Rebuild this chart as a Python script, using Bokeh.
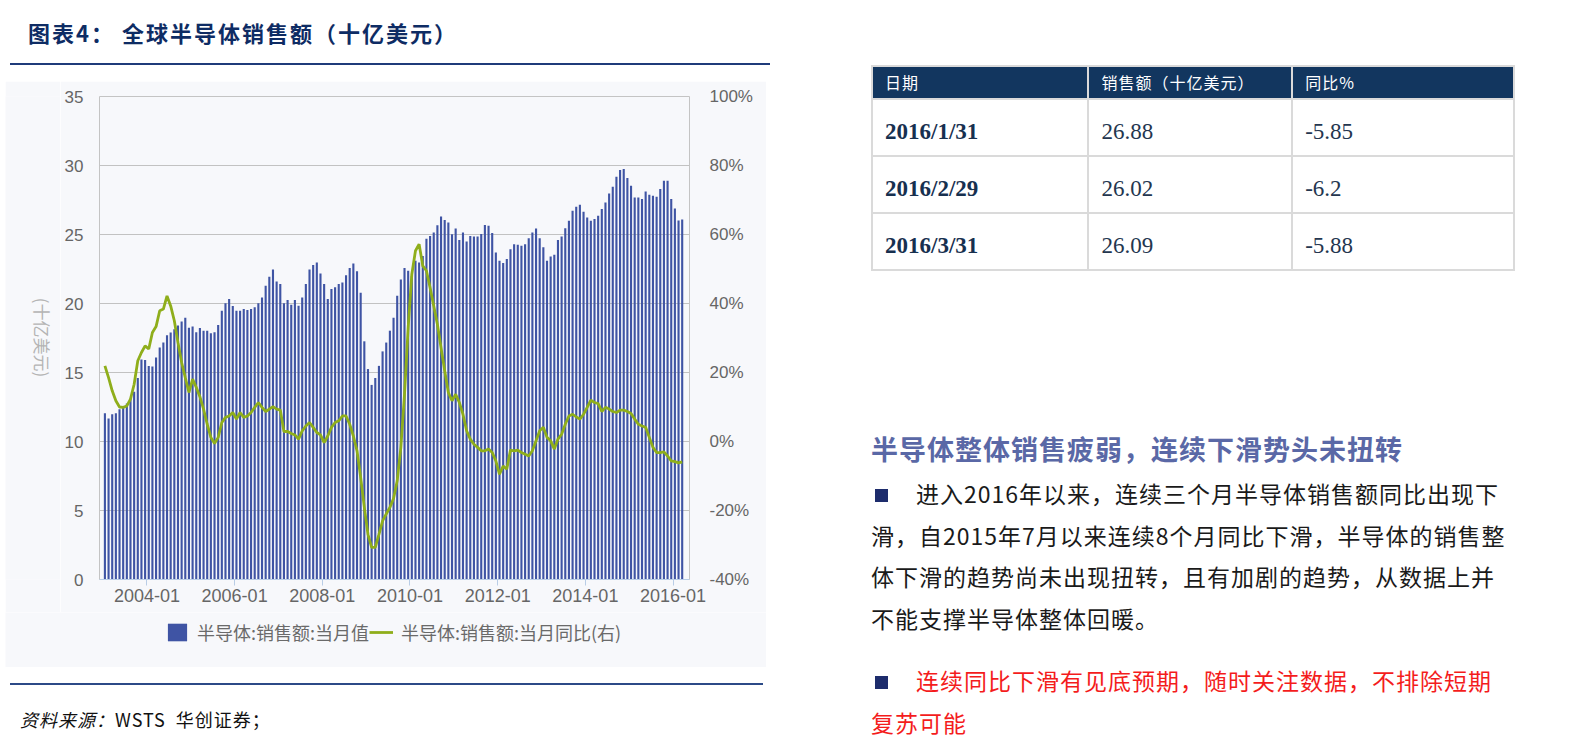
import math
import pandas as pd
from bokeh.plotting import figure
from bokeh.models import (ColumnDataSource, Range1d, LinearAxis, FixedTicker,
                          PrintfTickFormatter, Legend, LegendItem, Label, Div)
from bokeh.layouts import row, column
from bokeh.embed import file_html
from bokeh.resources import INLINE

# Global semiconductor monthly sales (billion USD), 2003-01 .. 2016-03
sales = [
    12.05, 11.67, 11.98, 12.05, 12.34, 12.46, 12.75, 13.10, 13.60, 14.60, 15.94, 15.90,  # 2003
    15.48, 15.43, 16.09, 16.81, 17.17, 17.70, 17.90, 18.14, 18.40, 18.70, 18.97, 18.24,  # 2004
    18.34, 17.91, 18.22, 18.03, 18.03, 17.84, 17.91, 18.44, 19.48, 20.01, 20.32, 19.82,  # 2005
    19.48, 19.48, 19.60, 19.53, 19.60, 19.72, 20.01, 20.44, 21.29, 21.94, 22.47, 21.60,  # 2006
    21.41, 20.01, 20.25, 19.91, 20.25, 19.84, 20.44, 21.41, 22.47, 22.79, 22.97, 22.18,  # 2007
    21.41, 20.32, 21.05, 21.17, 21.41, 21.53, 22.04, 22.57, 22.90, 22.33, 20.78, 17.26,  # 2008
    15.25, 14.10, 14.60, 15.48, 16.53, 17.17, 18.03, 18.97, 20.57, 21.74, 22.57, 22.38,  # 2009
    22.00, 23.09, 22.97, 23.45, 24.70, 24.90, 25.15, 25.67, 26.30, 26.05, 25.87, 25.02,  # 2010
    25.43, 24.60, 25.15, 24.50, 24.90, 24.85, 24.85, 25.03, 25.68, 25.63, 25.10, 23.70,  # 2011
    23.10, 22.93, 23.22, 23.94, 24.30, 24.26, 24.18, 24.30, 24.72, 25.15, 25.44, 24.72,  # 2012
    24.07, 23.10, 23.41, 23.53, 24.60, 24.86, 25.46, 26.00, 26.72, 27.01, 27.15, 26.65,  # 2013
    26.24, 26.00, 26.12, 26.36, 26.84, 27.32, 27.97, 28.46, 29.18, 29.67, 29.74, 29.09,  # 2014
    28.53, 27.68, 27.68, 27.57, 28.12, 27.88, 27.80, 27.73, 28.29, 28.89, 28.89, 27.57,  # 2015
    26.88, 26.02, 26.09,                                                                # 2016
]

# Year-on-year change of monthly sales (%)
yoy = [
    21.9, 18.5, 14.7, 11.8, 10.0, 9.9, 10.3, 12.3, 16.6, 23.4, 25.8, 27.7,        # 2003
    26.8, 31.6, 33.3, 37.9, 38.4, 42.2, 39.3, 35.0, 28.7, 22.9, 18.5, 14.2,       # 2004
    18.1, 15.7, 13.0, 9.4, 5.0, 1.2, -0.6, 1.2, 5.5, 7.0, 7.4, 8.4,               # 2005
    6.5, 8.4, 7.0, 7.4, 8.4, 9.9, 11.3, 9.9, 8.7, 9.4, 10.1, 9.4,                 # 2006
    9.1, 2.9, 2.9, 2.3, 1.9, 0.7, 3.1, 4.5, 5.5, 4.1, 2.6, 1.9,                   # 2007
    -0.3, 1.6, 4.1, 5.5, 6.0, 7.4, 7.4, 5.0, 1.6, -2.7, -10.4, -19.1,             # 2008
    -26.9, -30.7, -30.7, -26.9, -23.0, -21.0, -19.1, -16.5, -11.4, -1.7, 13.7, 33.0,  # 2009
    48.5, 55.3, 57.2, 50.9, 49.5, 44.6, 39.3, 34.0, 27.2, 20.5, 14.2, 11.8,       # 2010
    13.7, 11.3, 7.9, 3.1, 0.7, -0.8, -1.7, -2.7, -2.7, -2.2, -3.2, -5.6,          # 2011
    -9.5, -7.1, -8.0, -2.5, -2.7, -2.5, -3.2, -3.7, -4.2, -2.7, 0.2, 3.1,         # 2012
    4.1, 1.2, 0.2, -2.2, 0.7, 2.1, 5.0, 7.4, 7.9, 7.1, 6.5, 7.9,                  # 2013
    9.9, 12.0, 11.3, 11.0, 8.7, 9.9, 9.4, 8.7, 8.4, 9.1, 9.1, 8.7,                # 2014
    8.1, 6.5, 5.0, 4.5, 4.1, 1.2, -1.7, -3.2, -3.2, -3.0, -4.2, -5.6,             # 2015
    -5.85, -6.2, -5.88,                                                           # 2016
]

months = pd.date_range("2003-01-01", periods=len(sales), freq="MS").strftime("%Y-%m").tolist()
tick_labels = ["2004-01", "2006-01", "2008-01", "2010-01", "2012-01", "2014-01", "2016-01"]
left_ticks = [0, 5, 10, 15, 20, 25, 30, 35]
right_ticks = [-40, -20, 0, 20, 40, 60, 80, 100]
series_names = ["半导体:销售额:当月值", "半导体:销售额:当月同比(右)"]

table_dates = ["2016/1/31", "2016/2/29", "2016/3/31"]
table_sales = ["26.88", "26.02", "26.09"]
table_yoy = ["-5.85", "-6.2", "-5.88"]

BG = "#f7f8fb"
CJK = "Noto Sans CJK SC"
BAR_COLOR = "#3f54a4"
LINE_COLOR = "#8fae1b"

# month i is drawn centred in its slot [i, i+1); ticks sit at month starts
src = ColumnDataSource(dict(x=[i + 0.5 for i in range(len(months))],
                            sales=sales, yoy=yoy, month=months))

p = figure(frame_width=590, frame_height=483, x_range=Range1d(-0.98, 160.5), y_range=Range1d(0, 35),
           output_backend="svg", toolbar_location=None,
           min_border_left=39, min_border_right=77, min_border_top=15, min_border_bottom=33,
           background_fill_color=BG, border_fill_color=BG,
           outline_line_color="#c4c4c4", outline_line_width=1)
p.extra_y_ranges = {"pct": Range1d(-40, 100)}

p.vbar(x="x", top="sales", width=0.58, source=src, fill_color=BAR_COLOR, line_color=None)
p.line(x="x", y="yoy", source=src, y_range_name="pct", line_color=LINE_COLOR, line_width=2.8)

# x axis
tick_pos = [months.index(t) for t in tick_labels]
xa = p.xaxis[0]
xa.ticker = FixedTicker(ticks=tick_pos)
xa.major_label_overrides = {pos: lab for pos, lab in zip(tick_pos, tick_labels)}
xa.axis_line_color = "#b9cde6"
xa.major_tick_line_color = "#b9cde6"
xa.major_tick_out = 6
xa.major_tick_in = 0
xa.minor_tick_line_color = None
xa.major_label_standoff = 3
xa.major_label_text_font = "Liberation Sans"
xa.major_label_text_font_size = "18px"
xa.major_label_text_color = "#666666"

# left axis
ya = p.yaxis[0]
ya.ticker = FixedTicker(ticks=left_ticks)
ya.axis_line_color = None
ya.major_tick_line_color = None
ya.minor_tick_line_color = None
ya.major_label_standoff = 10
ya.major_label_text_font = "Liberation Sans"
ya.major_label_text_font_size = "17px"
ya.major_label_text_color = "#666666"

# right axis (percent)
ra = LinearAxis(y_range_name="pct", ticker=FixedTicker(ticks=right_ticks),
                formatter=PrintfTickFormatter(format="%d%%"))
ra.axis_line_color = None
ra.major_tick_line_color = None
ra.minor_tick_line_color = None
ra.major_label_standoff = 14
ra.major_label_text_font = "Liberation Sans"
ra.major_label_text_font_size = "17px"
ra.major_label_text_color = "#666666"
p.add_layout(ra, "right")

p.xgrid.visible = False
p.ygrid.ticker = FixedTicker(ticks=left_ticks)
p.ygrid.grid_line_color = "#c2c2c2"
p.ygrid.grid_line_width = 1


def strip(width, height):
    """A bare panel (no axes, pixel ranges) used for the unit label and the legend."""
    f = figure(width=width, height=height, x_range=Range1d(0, width), y_range=Range1d(0, height),
               output_backend="svg", toolbar_location=None, x_axis_type=None, y_axis_type=None,
               min_border=0, background_fill_color=BG, border_fill_color=BG, outline_line_color=None)
    f.grid.visible = False
    return f


# unit label, written top-to-bottom left of the value ticks
unit = strip(55, 531)
unit.margin = (0, 0, 0, 5)
unit.add_layout(Label(x=37, y=266, text="(十亿美元)", angle=-math.pi / 2,
                      text_align="center", text_baseline="middle",
                      text_color="#b4b4b4", text_font_size="17px", text_font=CJK))

# legend strip under the chart; the series are mapped onto a range far above
# the strip so only their legend swatches show
leg = strip(761, 55)
leg.margin = (0, 0, 0, 5)
leg.extra_y_ranges = {"hidden": Range1d(1000, 1001)}
r_bar = leg.vbar(x="x", top="sales", width=0.58, source=src, y_range_name="hidden",
                 fill_color=BAR_COLOR, line_color=None)
r_line = leg.line(x="x", y="yoy", source=src, y_range_name="hidden",
                  line_color=LINE_COLOR, line_width=2.8)
legend = Legend(items=[LegendItem(label=series_names[0], renderers=[r_bar]),
                       LegendItem(label=series_names[1], renderers=[r_line])],
                orientation="horizontal", location=(160, 22),
                label_text_font=CJK, label_text_font_size="18px", label_text_color="#6a6a6a",
                background_fill_alpha=0, border_line_color=None,
                glyph_width=24, glyph_height=22, spacing=0, label_standoff=8,
                padding=0, margin=0)
leg.add_layout(legend)

# ---- HTML blocks ----
title_div = Div(width=775, height=81, margin=(0, 0, 0, 0), text=f"""
<div style="position:relative;width:775px;height:81px;background:#fff;">
  <div style="position:absolute;left:28px;top:21px;white-space:nowrap;font-family:'{CJK}';
       font-weight:bold;font-size:22px;line-height:22px;letter-spacing:2px;color:#0e2c64;">图表4： 全球半导体销售额（十亿美元）</div>
  <div style="position:absolute;left:10px;top:63px;width:760px;height:2px;background:#1f3b7a;"></div>
</div>""")

source_div = Div(width=775, height=84, margin=(0, 0, 0, 0), text=f"""
<div style="position:relative;width:775px;height:84px;background:#fff;">
  <div style="position:absolute;left:10px;top:16px;width:753px;height:2px;background:#2c4a87;"></div>
  <div style="position:absolute;left:20px;top:43px;white-space:nowrap;font-family:'{CJK}';
       font-size:18px;line-height:18px;letter-spacing:1px;color:#111;"><i>资料来源：</i>WSTS&nbsp; 华创证券；</div>
</div>""")

cell = "border:2px solid #dadada;padding:0 0 0 12px;"
rows_html = ""
for d, s, y in zip(table_dates, table_sales, table_yoy):
    rows_html += f"""
  <tr style="height:57px;">
    <td style="{cell}padding-top:9px;font-family:'Liberation Serif';font-weight:bold;font-size:23px;color:#17304f;">{d}</td>
    <td style="{cell}padding-top:9px;font-family:'Liberation Serif';font-size:23px;color:#24364f;">{s}</td>
    <td style="{cell}padding-top:9px;font-family:'Liberation Serif';font-size:23px;color:#24364f;">{y}</td>
  </tr>"""

hdr = f"border:2px solid #dadada;padding:0 0 0 12px;font-family:'{CJK}';font-size:16px;letter-spacing:1px;color:#ffffff;"
body = f"font-family:'{CJK}';font-size:23px;line-height:41.7px;letter-spacing:1px;white-space:nowrap;"
bullet = "display:inline-block;width:13px;height:13px;background:#1d2c6c;margin-right:28px;vertical-align:1px;"

right_div = Div(width=809, height=751, margin=(0, 0, 0, 0), text=f"""
<div style="position:relative;width:809px;height:751px;background:#fff;">
  <table style="position:absolute;left:96px;top:65px;border-collapse:collapse;table-layout:fixed;width:644px;">
    <tr style="height:33px;background:#12365f;">
      <td style="{hdr}width:203px;">日期</td>
      <td style="{hdr}width:191px;">销售额（十亿美元）</td>
      <td style="{hdr}width:208px;">同比%</td>
    </tr>{rows_html}
  </table>
  <div style="position:absolute;left:96px;top:435px;white-space:nowrap;font-family:'{CJK}';font-weight:bold;
       font-size:27px;line-height:27px;letter-spacing:1px;color:#5a68a6;">半导体整体销售疲弱，连续下滑势头未扭转</div>
  <div style="position:absolute;left:100px;top:473px;{body}color:#1a1a1a;">
    <span style="{bullet}"></span>进入2016年以来，连续三个月半导体销售额同比出现下</div>
  <div style="position:absolute;left:96px;top:514.7px;{body}color:#1a1a1a;">滑，自2015年7月以来连续8个月同比下滑，半导体的销售整<br>体下滑的趋势尚未出现扭转，且有加剧的趋势，从数据上并<br>不能支撑半导体整体回暖。</div>
  <div style="position:absolute;left:100px;top:660px;{body}color:#f41c1c;">
    <span style="{bullet}"></span>连续同比下滑有见底预期，随时关注数据，不排除短期</div>
  <div style="position:absolute;left:96px;top:701.7px;{body}color:#f41c1c;">复苏可能</div>
</div>""")

left_col = column(title_div, row(unit, p, spacing=0), leg, source_div, spacing=0)
page = row(left_col, right_div, spacing=0)

open("out.html", "w").write(file_html(page, INLINE))
